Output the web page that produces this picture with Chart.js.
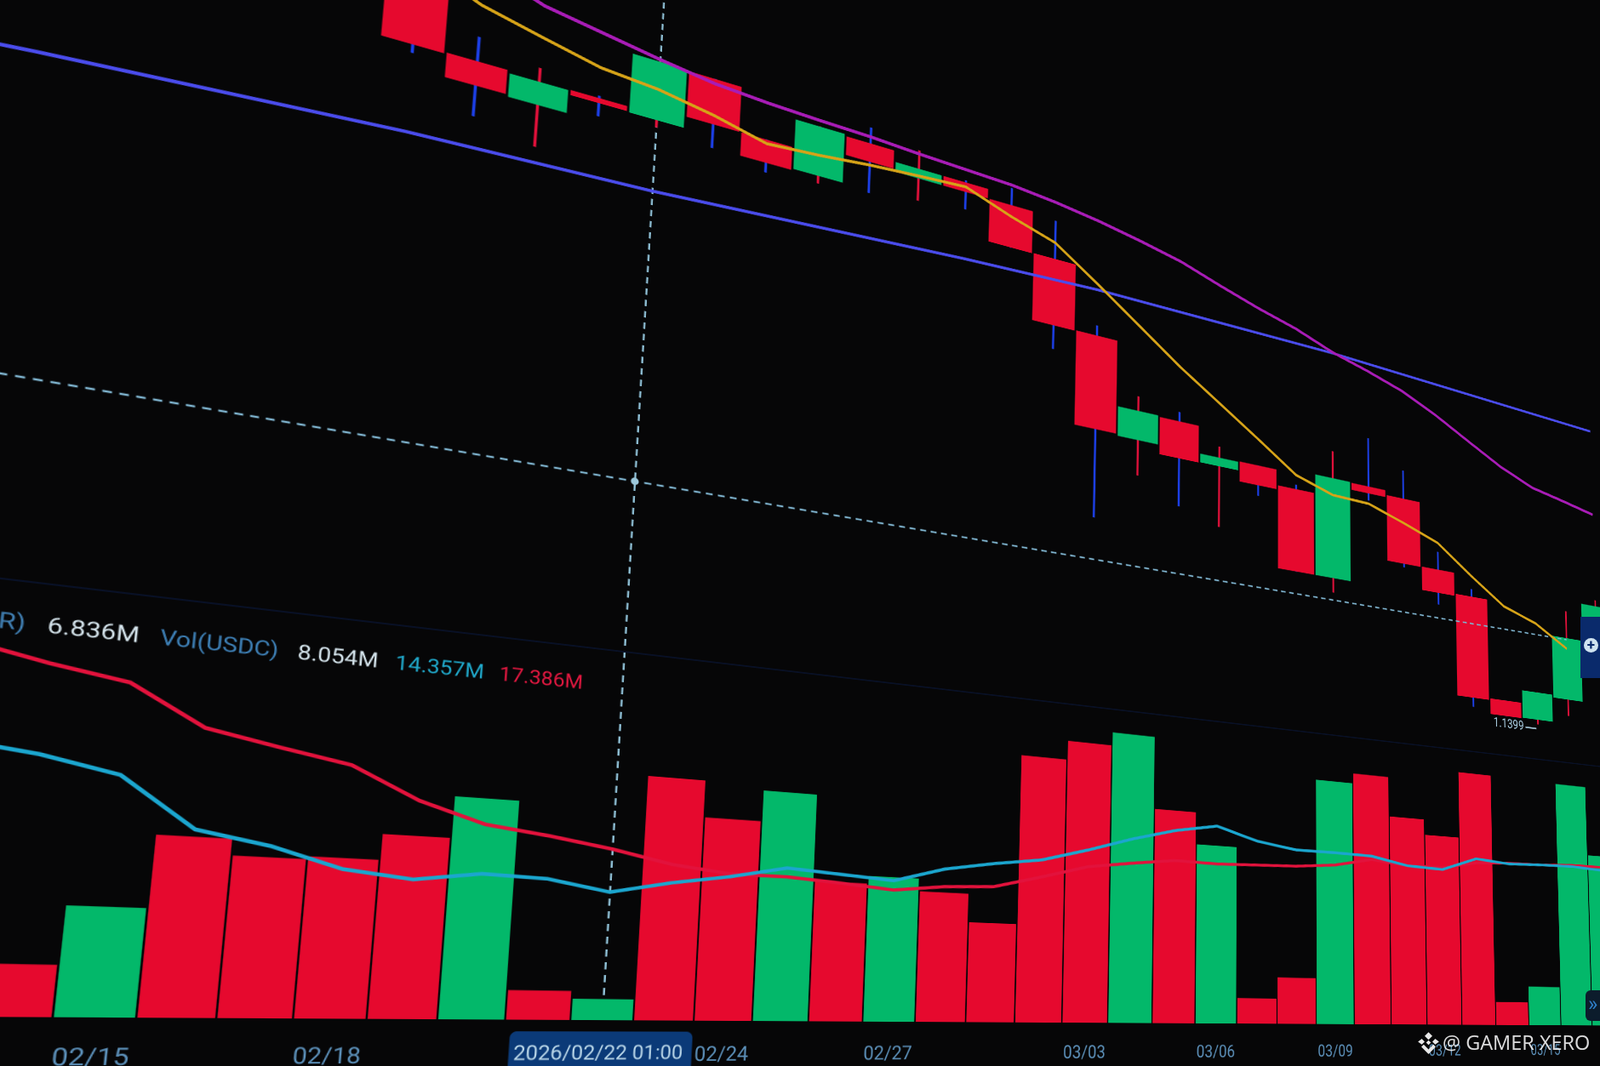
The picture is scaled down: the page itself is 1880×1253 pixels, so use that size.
<!DOCTYPE html>
<html>
<head>
<meta charset="utf-8">
<title>Vol(USDC)</title>
<script src="https://cdn.jsdelivr.net/npm/chart.js@4"></script>
<style>
  html, body { margin: 0; width: 1880px; height: 1253px; overflow: hidden; background: #060607; }
  #screen { position: absolute; left: 0; top: 0; width: 2850px; height: 1490px; transform-origin: 0 0; }
  #addBtn { position: absolute; left: 1857px; top: 725px; width: 23px; height: 72px; background: #0a2a6b; }
  #addBtn span { position: absolute; left: 4px; top: 25px; width: 17px; height: 17px; border-radius: 50%; background: #cfe3f0;
                 color: #0a2a6b; font: bold 17px/16px Roboto; text-align: center; }
  #moreBtn { position: absolute; left: 1863px; top: 1164px; width: 17px; height: 36px; background: #0c1c2c; border-radius: 6px 0 0 6px;
             color: #2f7fc9; font: 24px/32px Roboto; text-align: center; }
  #mark { position: absolute; left: 1665px; top: 1208px; color: rgba(255,255,255,.86); font: 23.5px/34px "Open Sans"; white-space: nowrap; }
  #mark svg { vertical-align: -5px; margin-right: 3px; }
</style>
</head>
<body>
<div id="screen"><canvas id="chart" width="2850" height="1490"></canvas></div>
<div id="addBtn"><span>+</span></div>
<div id="moreBtn">»</div>
<div id="mark"><svg width="27" height="27" viewBox="0 0 24 24" fill="#e8e8e8"><path d="M12 1l4 4-4 4-4-4zM5 8l3 3-3 3-4-2.900zM19 8l4 3.100-4 2.900-3-3zM12 9.500L14.500 12 12 14.500 9.500 12zM7 14l5 5 5-5 2.500 2.500L12 24l-7.500-7.500z"/></svg>@ GAMER XERO</div>

<script>
// one category per day, 02/10 to 03/19
const days = ['02/10','02/11','02/12','02/13','02/14','02/15','02/16','02/17','02/18','02/19','02/20','02/21','02/22','02/23','02/24',
  '02/25','02/26','02/27','02/28','03/01','03/02','03/03','03/04','03/05','03/06','03/07','03/08','03/09','03/10','03/11',
  '03/12','03/13','03/14','03/15','03/16','03/17','03/18','03/19'];
const tickDays = ['02/15','02/18','02/24','02/27','03/03','03/06','03/09','03/12','03/15'];
const crossDay = '02/22';
const crossLabel = '2026/02/22 01:00';
const crossPrice = 1.206;
const paneLine = 1.1144;

const candleOpen = [null,null,null,null,null,null,null,null,1.4517,1.4145,1.3998,1.4133,1.4100,1.4439,1.4169,1.4039,1.4329,1.4198,1.4259,1.4198,1.3928,1.3499,1.2878,1.3062,1.2820,1.2882,1.2775,1.2211,1.2902,1.2869,1.2407,1.2256,1.1540,1.1432,1.1612,1.1844,null,null];
const candleClose = [null,null,null,null,null,null,null,null,1.4137,1.4010,1.4129,1.4104,1.4443,1.4169,1.4030,1.4341,1.4214,1.4259,1.4198,1.3924,1.3495,1.2890,1.3070,1.2816,1.2878,1.2747,1.2211,1.2906,1.2853,1.2403,1.2240,1.1528,1.1428,1.1632,1.2072,1.2354,null,null];
const candleHigh = [null,null,null,null,null,null,null,null,1.4517,1.4280,1.4206,1.4145,1.4443,1.4439,1.4169,1.4341,1.4427,1.4374,1.4271,1.4308,1.4177,1.3564,1.3164,1.3123,1.2951,1.2882,1.2804,1.3094,1.3246,1.3070,1.2534,1.2309,1.1540,1.1632,1.2273,1.2399,null,null];
const candleLow = [null,null,null,null,null,null,null,null,1.4092,1.3842,1.3765,1.4030,1.4059,1.4030,1.3973,1.3994,1.4022,1.4059,1.4088,1.3924,1.3344,1.2326,1.2649,1.2501,1.2416,1.2677,1.2211,1.2113,1.2804,1.2379,1.2158,1.1464,1.1428,1.1399,1.1492,1.1844,null,null];

// moving averages on the price pane, null where nothing could be read
const maLong = [1.3520,1.3549,null,1.3589,null,null,null,null,1.3664,null,null,null,1.3688,null,null,null,null,null,1.3773,null,null,1.3801,null,null,null,null,null,1.3795,null,null,null,null,null,null,null,1.3717,null,null];
const maMid = [null,null,null,null,null,null,null,null,1.4860,1.4676,1.4562,null,1.4456,1.4411,1.4390,1.4378,1.4370,1.4353,null,1.4329,1.4300,1.4259,1.4206,1.4145,1.4055,1.3971,1.3899,1.3802,1.3732,1.3651,1.3535,1.3399,1.3266,1.3164,1.3115,1.3062,null,null];
const maShort = [null,null,null,null,null,null,null,null,1.4595,1.4460,1.4382,1.4308,1.4280,1.4223,1.4145,1.4165,1.4194,1.4214,1.4231,1.4124,1.4034,1.3838,1.3634,1.3429,1.3246,1.3062,1.2873,1.2788,1.2780,1.2694,1.2600,1.2407,1.2228,1.2142,1.1992,null,null,null];

// volume in millions
const volume = [null,null,null,null,4.7,10.1,17.0,15.4,15.7,18.3,22.6,3.0,2.2,26.3,22.2,25.7,15.8,16.7,15.2,11.8,32.6,35.0,36.7,27.3,23.1,3.3,6.1,33.2,34.6,29.0,26.8,36.4,3.3,5.6,36.2,25.7,null,null];
const volumeUp = [0,0,0,0,0,1,0,0,0,0,1,0,1,0,0,1,0,1,0,0,0,0,1,0,1,0,0,1,0,0,0,0,0,1,1,1,0,0];
const volMa5 = [null,null,null,24.6,23.8,22.4,17.7,16.5,14.6,13.9,14.8,14.6,13.5,14.8,15.8,17.1,16.7,16.3,18.0,19.0,19.8,21.4,23.2,24.7,25.7,24.1,23.3,23.3,23.2,22.2,22.0,23.9,23.5,23.7,23.8,23.5,null,null];
const volMa10 = [null,null,null,33.7,32.3,31.2,27.5,26.2,25.0,21.9,19.9,19.1,18.1,16.8,16.1,16.1,15.7,15.2,15.9,16.2,17.7,19.3,20.1,20.8,20.7,20.9,21.1,21.6,22.7,22.2,22.3,23.3,23.6,23.7,24.0,24.0,null,null];

const legendTexts = ['(R)', '6.836M', 'Vol(USDC)', '8.054M', '14.357M', '17.386M'];

const RED = '#e6092e', GREEN = '#03b86a';
const isUp = i => candleClose[i] > candleOpen[i];

// the flat chart is photographed at an angle: map its corners on to where the photo shows them
function tilt(from, to) {
  const a = [];
  for (let i = 0; i < 4; i++) {
    const [u, v] = from[i], [x, y] = to[i];
    a.push([u, v, 1, 0, 0, 0, -u * x, -v * x, x]);
    a.push([0, 0, 0, u, v, 1, -u * y, -v * y, y]);
  }
  for (let c = 0; c < 8; c++) {
    let p = c;
    for (let r = c + 1; r < 8; r++) if (Math.abs(a[r][c]) > Math.abs(a[p][c])) p = r;
    [a[c], a[p]] = [a[p], a[c]];
    for (let r = 0; r < 8; r++) {
      if (r === c) continue;
      const f = a[r][c] / a[c][c];
      for (let k = c; k < 9; k++) a[r][k] -= f * a[c][k];
    }
  }
  const h = a.map((row, i) => row[8] / row[i]);
  return `matrix3d(${h[0]},${h[3]},0,${h[6]},${h[1]},${h[4]},0,${h[7]},0,0,1,0,${h[2]},${h[5]},0,1)`;
}
const k = 1880 / 1568;
document.getElementById('screen').style.transform = tilt(
  [[412.5, 1400], [2512.5, 1400], [412.5, 700], [2512.5, 700]],
  [[93 * k, 997.5 * k], [1514 * k, 1005 * k], [157 * k, 392.7 * k], [1505 * k, 622 * k]]
);

const overlayText = {
  id: 'overlayText',
  afterDraw(chart) {
    const ctx = chart.ctx, x = chart.scales.x, price = chart.scales.price;
    const bottom = chart.chartArea.bottom;
    ctx.save();
    ctx.textBaseline = 'middle';
    ctx.textAlign = 'center';
    ctx.font = '25px Roboto';
    const at = [296, 374, 494, 614, 724, 840];
    const col = ['#3f7db0', '#d3e2ea', '#3d7fb5', '#d3e2ea', '#1fa7c9', '#e0173f'];
    legendTexts.forEach((t, i) => {
      ctx.fillStyle = col[i];
      ctx.fillText(t, at[i], 977);
    });
    // lowest price marker
    const low = Math.min(...candleLow.filter(v => v !== null));
    const lx = x.getPixelForValue(candleLow.indexOf(low)), ly = price.getPixelForValue(low) + 8;
    ctx.fillStyle = '#a9cde0';
    ctx.font = '23px Roboto';
    ctx.textAlign = 'right';
    ctx.fillText(low.toFixed(4), lx - 34, ly);
    ctx.fillRect(lx - 30, ly - 1, 26, 2.5);
    ctx.textAlign = 'center';
    // date chip under the crosshair
    const cx = x.getPixelForValue(days.indexOf(crossDay));
    ctx.fillStyle = '#0b3a78';
    ctx.beginPath();
    ctx.roundRect(cx - 106, bottom + 14, 218, 76, 8);
    ctx.fill();
    ctx.fillStyle = '#b9d6e8';
    ctx.font = '25px Roboto';
    ctx.fillText(crossLabel, cx, bottom + 42);
    ctx.restore();
  }
};

new Chart(document.getElementById('chart'), {
  data: {
    labels: days,
    datasets: [
      { type: 'line', yAxisID: 'price', data: days.map(() => paneLine), borderColor: '#081026', borderWidth: 2, order: 9 },
      { type: 'bar', yAxisID: 'vol', data: volume, grouped: false, barPercentage: 0.97, categoryPercentage: 1,
        backgroundColor: volumeUp.map(u => u ? GREEN : RED), order: 8 },
      { type: 'line', yAxisID: 'vol', data: volMa10, borderColor: '#e2123c', borderWidth: 4.5, order: 7 },
      { type: 'line', yAxisID: 'vol', data: volMa5, borderColor: '#1ba6cf', borderWidth: 4.5, order: 6 },
      { type: 'bar', yAxisID: 'price', data: days.map((d, i) => candleHigh[i] === null ? null : [candleLow[i], candleHigh[i]]),
        grouped: false, barThickness: 3, backgroundColor: days.map((d, i) => isUp(i) ? '#e0103a' : '#1c3fe6'), order: 5 },
      { type: 'bar', yAxisID: 'price', data: days.map((d, i) => candleOpen[i] === null ? null : [candleOpen[i], candleClose[i]]),
        grouped: false, barPercentage: 0.96, categoryPercentage: 1,
        backgroundColor: days.map((d, i) => isUp(i) ? GREEN : RED), order: 4 },
      { type: 'line', yAxisID: 'price', data: days.map((d, i) => i <= days.indexOf('03/16') ? crossPrice : null),
        borderColor: '#7fb4cf', borderWidth: 2.5, borderDash: [9, 7], order: 3,
        pointRadius: days.map(d => d === crossDay ? 5 : 0), pointBackgroundColor: '#9cc8dc', pointBorderWidth: 0 },
      { type: 'line', yAxisID: 'price', data: maLong, borderColor: '#4a4cec', borderWidth: 4.5, spanGaps: true, order: 2 },
      { type: 'line', yAxisID: 'price', data: maMid, borderColor: '#a81cb6', borderWidth: 5, spanGaps: true, order: 1 },
      { type: 'line', yAxisID: 'price', data: maShort, borderColor: '#d6a318', borderWidth: 4.5, order: 0 }
    ]
  },
  options: {
    responsive: false,
    animation: false,
    devicePixelRatio: 2,
    events: [],
    layout: { padding: 0 },
    elements: { point: { radius: 0 }, line: { tension: 0 } },
    plugins: { legend: { display: false }, tooltip: { enabled: false } },
    scales: {
      x: {
        type: 'category',
        offset: true,
        border: { display: false, dash: [9, 7] },
        grid: {
          offset: false,
          drawTicks: false,
          lineWidth: 2.5,
          color: c => days[c.index] === crossDay ? '#8fc0d6' : 'transparent'
        },
        ticks: {
          autoSkip: false,
          maxRotation: 0,
          padding: 29,
          color: '#5b8fb8',
          font: { family: 'Roboto', size: 26 },
          callback: function (v) {
            const d = this.getLabelForValue(v);
            return tickDays.includes(d) ? d : '';
          }
        },
        afterFit: s => { s.height = 90; }
      },
      price: { display: false, min: 0.926, max: 1.486 },
      vol: { display: false, min: 0, max: 118 }
    }
  },
  plugins: [overlayText]
});
</script>
</body>
</html>
